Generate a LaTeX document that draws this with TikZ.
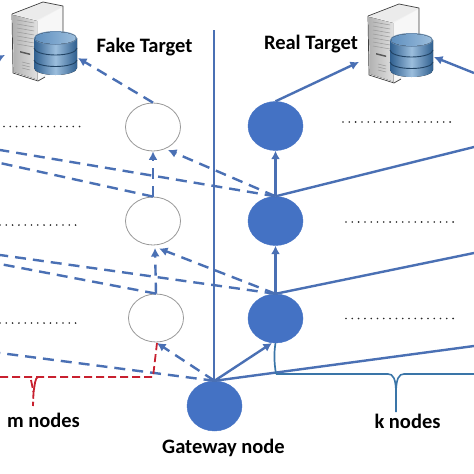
\documentclass[tikz,border=0pt]{standalone}
\usepackage{fontspec}
\setmainfont{Carlito}
\usetikzlibrary{arrows.meta,shapes.geometric}
\definecolor{nodeblue}{HTML}{4472C4}
\definecolor{linkblue}{HTML}{4A70B4}
\definecolor{bracered}{HTML}{C8202F}
\definecolor{braceblue}{HTML}{3A75A8}
\definecolor{dbmid}{HTML}{5F8FBE}
\definecolor{dbdark}{HTML}{2F5F8F}
\definecolor{dblight}{HTML}{9CBEDD}
\tikzset{
  x=1pt,y=-1pt,
  realnode/.style={ellipse,draw=nodeblue,fill=nodeblue,minimum width=55pt,minimum height=49pt,inner sep=0pt},
  fakenode/.style={ellipse,draw=black!40,line width=0.8pt,fill=white,minimum width=55pt,minimum height=48pt,inner sep=0pt},
  solidlink/.style={draw=linkblue,line width=2.4pt},
  fakelink/.style={draw=linkblue,line width=2.4pt,dash pattern=on 11pt off 7pt},
  headed/.style={-{Latex[length=8.5pt,width=9pt]}},
  dotrow/.style={draw=black!85,line width=1.8pt,line cap=round,dash pattern=on 0pt off 6.3pt},
  label/.style={font=\fontsize{20.5}{24}\selectfont\bfseries,text=black,inner sep=0pt},
  serverpic/.pic={
    \fill[black!5] (12,14) -- (43,2) -- (63,6) -- (63,36) -- (45,77) -- (38,81) -- (13,73) -- cycle;
    \fill[left color=black!30,right color=black!12] (13.5,15) -- (37,21) -- (37.5,79.5) -- (14,72) -- cycle;
    \fill[black!8] (13.5,14) -- (43,3) -- (62,7) -- (37,20) -- cycle;
    \fill[black!3] (38,21) -- (62,7.5) -- (62,36) -- (44,76) -- (38.5,79.5) -- cycle;
    \foreach \yy in {20,24,28,32,36,40,44}{\draw[black!40,line width=0.5pt] (17,\yy) -- (34,\yy+3);}
    \fill[black!65] (20,51) -- (30,53.5) -- (30,55) -- (20,52.5) -- cycle;
    \foreach \yy in {62,65,68}{\draw[black!40,line width=0.5pt] (22,\yy) -- (30,\yy+2);}
    \draw[black!75,line width=0.7pt,line join=round] (12,14) -- (43,2) -- (63,6) -- (63,36);
    \draw[black!75,line width=0.7pt,line join=round] (12,14) -- (13,73) -- (38,81) -- (45,77);
    \fill[left color=dbdark,right color=dbdark,middle color=dblight] (34,38) -- (34,68) arc[start angle=180,end angle=360,x radius=21.5pt,y radius=7pt] -- (77,38) -- cycle;
    \fill[dbdark!70] (34,38) arc[start angle=180,end angle=360,x radius=21.5pt,y radius=7pt] arc[start angle=0,end angle=180,x radius=21.5pt,y radius=7pt] -- cycle;
    \fill[left color=dbmid,right color=dblight] (35,38) arc[start angle=180,end angle=360,x radius=20.5pt,y radius=6pt] arc[start angle=0,end angle=180,x radius=20.5pt,y radius=6pt] -- cycle;
    \draw[dbdark!70!black,line width=0.9pt] (34,48) arc[start angle=180,end angle=360,x radius=21.5pt,y radius=7pt];
    \draw[dbdark!70!black,line width=0.9pt] (34,60) arc[start angle=180,end angle=360,x radius=21.5pt,y radius=6.5pt];
  }
}
\begin{document}
\begin{tikzpicture}
\useasboundingbox (0,0) rectangle (474,474);
\clip (0,0) rectangle (474,474);
\fill[white] (0,0) rectangle (474,474);

% servers
\pic at (0,0) {serverpic};
\pic at (356,2) {serverpic};
\coordinate (fakeserver) at (78,58);
\coordinate (realserverL) at (359,62);
\coordinate (realserverR) at (434,57);
\coordinate (leftserver) at (5,55);

% nodes
\node[fakenode] (f1) at (153,127) {};
\node[fakenode] (f2) at (153,221) {};
\node[fakenode] (f3) at (156,318) {};
\node[realnode] (r1) at (275.5,126) {};
\node[realnode] (r2) at (275.5,221) {};
\node[realnode] (r3) at (275.5,318.5) {};
\node[realnode,minimum height=50pt] (gw) at (214.5,406) {};

% free ends
\coordinate (divtop) at (214,30);
\coordinate (eastA) at (474,73);
\coordinate (eastB) at (474,147);
\coordinate (eastC) at (474,253);
\coordinate (eastD) at (474,346);
\coordinate (westA) at (-30,72);
\coordinate (westB) at (0,150);
\coordinate (westC) at (0,163);
\coordinate (westD) at (0,255);
\coordinate (westE) at (0,264);
\coordinate (westF) at (0,353);
\coordinate (f1se) at (168,150);
\coordinate (f2se) at (159,248.5);
\coordinate (f3se) at (157,343);
\coordinate (r3sw) at (272,343);
\coordinate (kjoin) at (276,374);
\coordinate (f2in) at (155,248);

% divider
\draw[solidlink] (divtop) -- (gw.north -| divtop);

% dashed links (fake side)
\draw[fakelink,headed] (f1.north) -- (fakeserver);
\draw[fakelink,headed] (westA) -- (leftserver);
\draw[fakelink] (r2.north) -- (westB);
\draw[fakelink] (f2.north) -- (westC);
\draw[fakelink,headed] (r2.north) -- (f1se);
\draw[fakelink,headed] (f2.north) -- (f1.south);
\draw[fakelink] (r3.north) -- (westD);
\draw[fakelink] (f3.north) -- (westE);
\draw[fakelink,headed] (r3.north) -- (f2se);
\draw[fakelink,headed] (f3.north) -- (f2in);
\draw[fakelink,headed] (gw.north) -- (f3se);
\draw[fakelink] (gw.north) -- (westF);

% solid links (real side)
\draw[solidlink,headed] (r1.north) -- (realserverL);
\draw[solidlink,headed] (eastA) -- (realserverR);
\draw[solidlink,headed] (r2.north) -- (r1.south);
\draw[solidlink,headed] (r3.north) -- (r2.south);
\draw[solidlink] (r2.north) -- (eastB);
\draw[solidlink] (r3.north) -- (eastC);
\draw[solidlink,headed] (gw.north) -- (r3sw);
\draw[solidlink] (gw.north) -- (eastD);

% k brace
\draw[draw=braceblue,line width=1.7pt] (kjoin) .. controls (274,362) and (274,352) .. (r3.south);
\draw[draw=braceblue,line width=1.6pt] (kjoin) -- (388,374) .. controls (393,374) and (396,378) .. (396,394) -- (396,412);
\draw[draw=braceblue,line width=1.6pt] (474,374) -- (404,374) .. controls (399,374) and (396,378) .. (396,394);

% m brace
\coordinate (redcorner) at (153,377);
\draw[draw=bracered,line width=1.8pt,dash pattern=on 8pt off 4pt] (0,377) -- (redcorner) -- (f3se);
\draw[draw=bracered,line width=1.8pt,dash pattern=on 8pt off 3pt] (31,380) -- (33.5,392) -- (33,406);
\draw[draw=bracered,line width=1.8pt] (38,377) .. controls (35,378) and (35,384) .. (33.5,392);

% dotted rows
\draw[dotrow] (4,126.5) -- (83,126.5);
\draw[dotrow] (0,225) -- (78,225);
\draw[dotrow] (0,323) -- (78,323);
\draw[dotrow] (343,122) -- (453,122);
\draw[dotrow] (346,222) -- (456,222);
\draw[dotrow] (346,318.5) -- (455,318.5);

% labels
\node[label] (tf) at (144.5,47) {Fake Target};
\node[label] (tr) at (311,44.5) {Real Target};
\node[label] (tm) at (43.5,420) {m nodes};
\node[label] (tk) at (407.5,421) {k nodes};
\node[label] (tg) at (223.5,448) {Gateway node};
\end{tikzpicture}
\end{document}
